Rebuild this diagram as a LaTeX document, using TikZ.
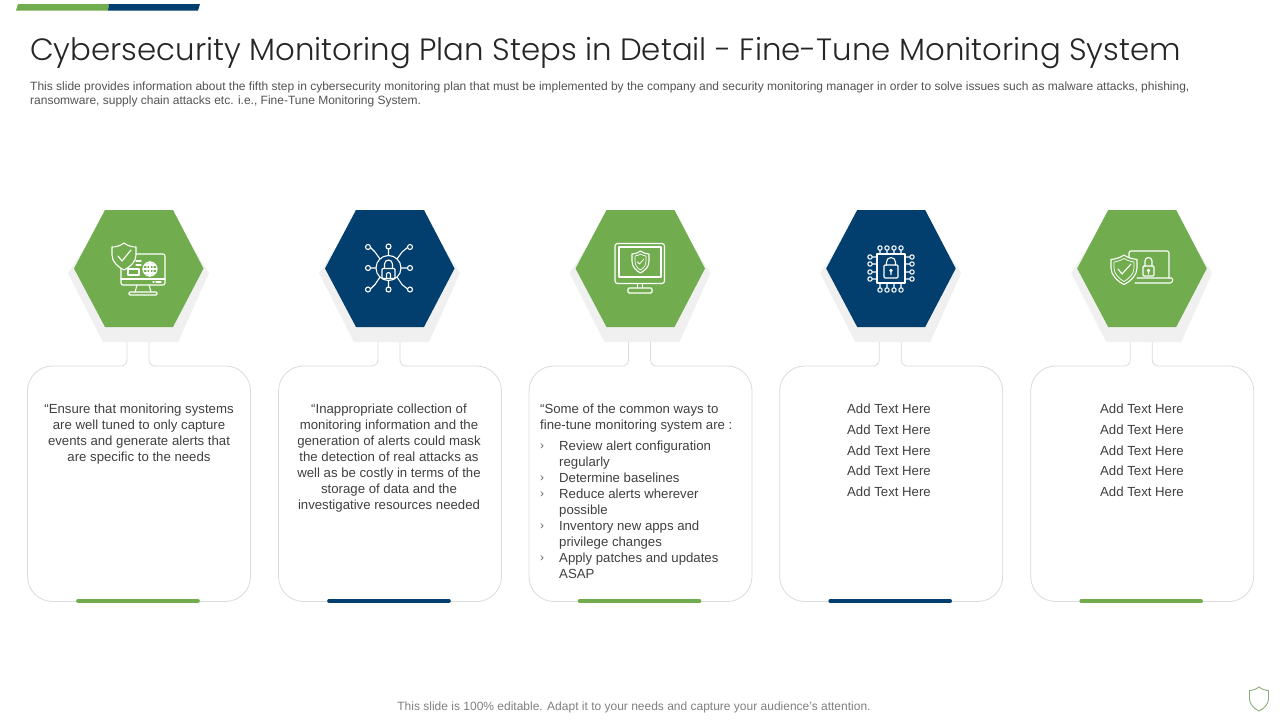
\documentclass[tikz,border=0pt]{standalone}
\usepackage{fontspec}
\setmainfont{Liberation Sans}
\newfontfamily\ttlfont[UprightFont=* Light]{Poppins}
\usetikzlibrary{arrows.meta,positioning}
\definecolor{grn}{HTML}{71AD4F}
\definecolor{nvy}{HTML}{023E6E}
\definecolor{txt}{HTML}{404040}
\newcommand{\bdy}{\fontsize{13.2}{16}\selectfont}

\begin{document}
\begin{tikzpicture}[
    x=1pt, y=-1pt,
    ttl/.style={anchor=west, inner sep=0pt, font=\ttlfont\fontsize{30.8}{36}\selectfont, text=black!85},
    sub/.style={anchor=north west, inner sep=0pt, align=left, text=txt!90,
                font=\fontsize{12}{14}\selectfont},
    para/.style={anchor=north, inner sep=0pt, align=center, text=txt, font=\bdy},
    item/.style={anchor=north west, inner sep=0pt, align=left, text=txt, font=\bdy},
    tick/.style={anchor=north west, inner sep=0pt, text=txt!80, font=\fontsize{12}{16}\selectfont},
    addt/.style={inner sep=0pt, text=txt, font=\bdy},
    cardl/.style={draw=black!14, line width=0.8pt},
    bar/.style={line width=3.6pt, line cap=round},
    ico/.style={draw=white, line width=1.1pt, line join=round, line cap=round},
    icf/.style={ico, fill=grn}
  ]
  \useasboundingbox (0,0) rectangle (1280,720);
  \fill[white] (0,0) rectangle (1280,720);
  % --- Top strip ---
  \fill[grn] (18,4) -- (109,4) -- (108,10.5) -- (16,10.5) -- cycle;
  \fill[nvy] (109,4) -- (200,4) -- (198,10.5) -- (108,10.5) -- cycle;
  % --- Heading ---
  \node[ttl] (title) at (30,53) {Cybersecurity Monitoring Plan Steps in Detail - Fine-Tune Monitoring System};
  \node[sub] (intro) at (30,82)
    {This slide provides information about the fifth step in cybersecurity monitoring plan that must be implemented by the company and security monitoring manager in order to solve issues such as malware attacks, phishing,\\
     ransomware, supply chain attacks etc. i.e., Fine-Tune Monitoring System.};
  % --- Hexagons and cards ---
  \foreach \cx/\col in {139/grn,390/nvy,640.5/grn,891.2/nvy,1142.2/grn} {
    \begin{scope}[shift={(\cx,0)}]
      \fill[black!6] (-71,273) -- (-36,342) -- (39,342) -- (70,273) -- (36,220) -- (-36,220) -- cycle;
      \fill[\col] (-65,268.5) -- (-34,210) -- (34,210) -- (64.5,268.5) -- (34,327) -- (-34,327) -- cycle;
      \draw[cardl] (10,342) [rounded corners=6pt] -- (10,366) [rounded corners=25pt]
        -- (111.5,366) -- (111.5,601.5) -- (-111.5,601.5) -- (-111.5,366) [rounded corners=6pt]
        -- (-12,366) [sharp corners] -- (-12,342);
      \draw[bar, draw=\col] (-61,601) -- (59,601);
    \end{scope}
  }
  % --- Icon 1: monitor with shield ---
  \draw[ico, rounded corners=2pt] (121,254) rectangle (165,285);
  \draw[ico] (121,279) -- (165,279);
  \draw[ico] (150,269) circle[radius=7];
  \draw[ico] (150,262) -- (150,276) (143,269) -- (157,269) (144.5,265) -- (155.5,265) (144.5,273) -- (155.5,273);
  \draw[ico] (150,269) ellipse[x radius=3.2, y radius=7];
  \draw[ico] (128,269) rectangle (139,275);
  \draw[ico] (136,261) -- (141,261) (136,265) -- (141,265) (153,282) -- (154,282) (156,282) -- (161,282);
  \draw[ico] (137,285) -- (135,292) (149,285) -- (151,292);
  \draw[ico, rounded corners=1pt] (129,292) rectangle (157,295);
  \draw[icf] (124,243) .. controls (120,246) and (116,247) .. (112,247)
    -- (112,255) .. controls (112,262) and (118,267) .. (124,270)
    .. controls (130,267) and (136,262) .. (136,255) -- (136,247)
    .. controls (132,247) and (128,246) .. (124,243) -- cycle;
  \draw[ico] (118,256) -- (122,261) -- (131,250);
  % --- Icon 2: lock with network ---
  \draw[ico] (388.5,268) circle[radius=12.5];
  \draw[ico, rounded corners=1pt] (382,268.5) rectangle (395,278.5);
  \draw[ico] (384.5,268.5) -- (384.5,264) arc[start angle=180, end angle=360, radius=4] -- (392.5,268.5);
  \draw[ico] (386.5,278.5) -- (386.5,274.5) arc[start angle=180, end angle=360, radius=2] -- (390.5,278.5);
  \foreach \px/\py in {368/247,388.5/246.5,410/247,368/268,410/268,368/289.5,388.5/289.5,410/289.5}
    \draw[ico] (\px,\py) circle[radius=2.5];
  \draw[ico] (388.5,249) -- (388.5,255.5) (388.5,280.5) -- (388.5,287)
    (370.5,268) -- (376,268) (401,268) -- (407.5,268)
    (370.5,247.5) -- (375,252) -- (380,259)
    (407.5,247.5) -- (402,252) -- (397,259)
    (370.5,289) -- (375,284.5) -- (380,277)
    (407.5,289) -- (402,284.5) -- (397,277);
  % --- Icon 3: screen with shield ---
  \draw[ico, rounded corners=2.5pt] (615,243.5) rectangle (664.5,283.5);
  \draw[ico] (619,247) rectangle (661,277);
  \draw[ico] (637.5,283.5) -- (637.5,288) (642.5,283.5) -- (642.5,288);
  \draw[ico, rounded corners=1pt] (628,288) rectangle (652,293);
  \draw[ico] (640.5,251) .. controls (638,253) and (635,254) .. (632,254)
    -- (632,261) .. controls (632,267) and (636,270.5) .. (640.5,273)
    .. controls (645,270.5) and (649,267) .. (649,261) -- (649,254)
    .. controls (646,254) and (643,253) .. (640.5,251) -- cycle;
  \draw[ico, line width=0.7pt] (640.5,254) .. controls (639,255) and (637,256) .. (635,256)
    -- (635,261) .. controls (635,265) and (637,268) .. (640.5,270)
    .. controls (644,268) and (646,265) .. (646,261) -- (646,256)
    .. controls (644,256) and (642,255) .. (640.5,254) -- cycle;
  \draw[ico, line width=0.8pt] (637.5,262) -- (639.5,264) -- (643.5,259.5);
  % --- Icon 4: chip with lock ---
  \draw[ico] (877,254) rectangle (905,283);
  \draw[ico, rounded corners=1pt] (884,265) rectangle (898,278);
  \draw[ico] (886.5,265) -- (886.5,262) arc[start angle=180, end angle=360, radius=4.5] -- (895.5,265);
  \draw[ico] (891,270.5) circle[radius=1.2] (891,271.7) -- (891,274.5);
  \foreach \pp in {880,887,894,901} {
    \draw[ico] (\pp,248) circle[radius=2.2] (\pp,250.2) -- (\pp,254);
    \draw[ico] (\pp,290) circle[radius=2.2] (\pp,283) -- (\pp,287.8);
  }
  \foreach \pp in {257,264,272,279} {
    \draw[ico] (870,\pp) circle[radius=2.2] (872.2,\pp) -- (877,\pp);
    \draw[ico] (912,\pp) circle[radius=2.2] (905,\pp) -- (909.8,\pp);
  }
  % --- Icon 5: laptop with shield ---
  \draw[ico, rounded corners=2pt] (1129,278) -- (1129,251) -- (1169,251) -- (1169,278);
  \draw[ico, rounded corners=1.5pt] (1137,278) -- (1173,278) -- (1172,283) -- (1135,283);
  \draw[ico, rounded corners=1pt] (1143,266) rectangle (1154,276);
  \draw[ico] (1145,266) -- (1145,261) arc[start angle=180, end angle=360, radius=3.5] -- (1152,266);
  \draw[ico] (1148.5,270.5) circle[radius=1.2] (1148.5,271.7) -- (1148.5,274);
  \draw[icf] (1124,255) .. controls (1120,258) and (1115,259) .. (1111,259.5)
    -- (1111,268) .. controls (1111,275) and (1117,281) .. (1124,284.5)
    .. controls (1131,281) and (1137,275) .. (1137,268) -- (1137,259.5)
    .. controls (1133,259) and (1128,258) .. (1124,255) -- cycle;
  \draw[ico, line width=0.7pt] (1124,258.5) .. controls (1121,260.5) and (1117,261.5) .. (1114,262)
    -- (1114,268) .. controls (1114,274) and (1119,278.5) .. (1124,281.5)
    .. controls (1129,278.5) and (1134,274) .. (1134,268) -- (1134,262)
    .. controls (1131,261.5) and (1127,260.5) .. (1124,258.5) -- cycle;
  \draw[ico] (1118,269) -- (1122,274) -- (1131,264);
  % --- Card texts ---
  \node[para] (textA) at (139,403.5)
    {``Ensure that monitoring systems\\ are well tuned to only capture\\
     events and generate alerts that\\ are specific to the needs};
  \node[para] (textB) at (389,403.5)
    {``Inappropriate collection of\\ monitoring information and the\\
     generation of alerts could mask\\ the detection of real attacks as\\
     well as be costly in terms of the\\ storage of data and the\\
     investigative resources needed};
  \node[item] (textC) at (540,403.5)
    {``Some of the common ways to\\ fine-tune monitoring system are :};
  \node[tick] (tickA) at (540,444) {›};
  \node[item] (itemA) at (559,440.5) {Review alert configuration\\ regularly};
  \node[tick] (tickB) at (540,476) {›};
  \node[item] (itemB) at (559,472.5) {Determine baselines};
  \node[tick] (tickC) at (540,492) {›};
  \node[item] (itemC) at (559,488.5) {Reduce alerts wherever\\ possible};
  \node[tick] (tickD) at (540,524) {›};
  \node[item] (itemD) at (559,520.5) {Inventory new apps and\\ privilege changes};
  \node[tick] (tickE) at (540,556) {›};
  \node[item] (itemE) at (559,552.5) {Apply patches and updates\\ ASAP};
  % --- Placeholder lines ---
  \foreach \ly [count=\li] in {408.5,429.5,450.5,470.5,491.5} {
    \node[addt] (addD\li) at (889,\ly) {Add Text Here};
    \node[addt] (addE\li) at (1142,\ly) {Add Text Here};
  }
  % --- Footer ---
  \node[inner sep=0pt, text=black!50, font=\fontsize{12}{14}\selectfont] (foot) at (634,707)
    {This slide is 100\% editable. Adapt it to your needs and capture your audience's attention.};
  \draw[draw=grn!80!black!70, line width=0.9pt] (1259,687) .. controls (1256,689.5) and (1252,690.5) .. (1249.5,690.5)
    -- (1249.5,699) .. controls (1249.5,704) and (1254,708.5) .. (1259,711)
    .. controls (1264,708.5) and (1268.5,704) .. (1268.5,699) -- (1268.5,690.5)
    .. controls (1266,690.5) and (1262,689.5) .. (1259,687) -- cycle;
\end{tikzpicture}
\end{document}
